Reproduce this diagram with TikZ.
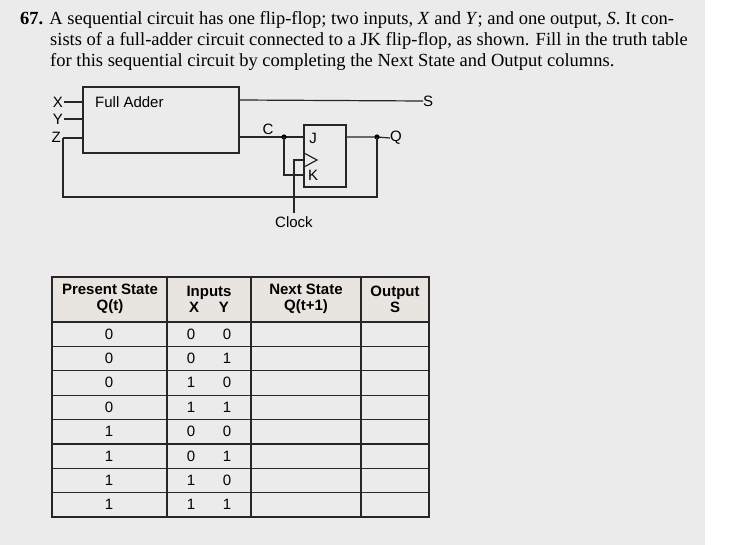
\documentclass[tikz,border=0pt]{standalone}
\usepackage{fontspec}
\setmainfont{Liberation Serif}
\setsansfont{Liberation Sans}
\begin{document}
\begin{tikzpicture}[x=1pt,y=-1pt,
  wire/.style={line width=1.2pt,black!85},
  lbl/.style={font=\sffamily\fontsize{15}{15}\selectfont,inner sep=0pt},
  cell/.style={font=\sffamily\fontsize{15}{15}\selectfont,inner sep=0pt},
  head/.style={font=\sffamily\bfseries\fontsize{15}{16}\selectfont,inner sep=0pt,align=center},
  title/.style={font=\fontsize{18.5}{18.5}\selectfont,inner sep=0pt,anchor=west}]
\fill[black!8] (0,0) rectangle (705,545);
\fill[white] (705,0) rectangle (729,545);
\useasboundingbox (0,0) rectangle (729,545);
% title
\node[title] (t1) at (20,20) {\textbf{67.} A sequential circuit has one flip-flop; two inputs, \textit{X} and \textit{Y}; and one output, \textit{S}. It con-};
\node[title] (t2) at (50,41) {sists of a full-adder circuit connected to a JK flip-flop, as shown. Fill in the truth table};
\node[title] (t3) at (50,62) {for this sequential circuit by completing the Next State and Output columns.};
% circuit
\draw[wire] (83,87) rectangle (239,153);
\node[lbl,anchor=west] (fa) at (95,102) {Full Adder};
\node[lbl,anchor=east] (X) at (63,102) {X};
\node[lbl,anchor=east] (Y) at (63,119) {Y};
\node[lbl,anchor=east] (Z) at (61,137) {Z};
\draw[wire] (X.east)++(1,0) -- (83,102);
\draw[wire] (Y.east)++(1,0) -- (83,119);
\coordinate (zc) at (63,138);
\draw[wire] (zc) -- (83,138);
\node[lbl,anchor=west] (S) at (423,101) {S};
\draw[wire] (239,100) -- (S.west);
\draw[wire] (304,125) rectangle (346,187);
\node[lbl] (J) at (313,138) {J};
\node[lbl] (K) at (313,175) {K};
\node[lbl] (C) at (268,129) {C};
\coordinate (cd) at (284,137);
\draw[wire] (239,137) -- (cd) -- (304,137);
\fill (cd) circle (2.6);
\draw[wire] (cd) -- (284,175) -- (304,175);
\draw[wire] (304,153) -- (317,160) -- (304,167);
\node[lbl] (clk) at (294,222) {Clock};
\draw[wire] (clk.north)++(0,-3) -- (294,160) -- (304,160);
\coordinate (qd) at (377,137);
\node[lbl,anchor=west] (Q) at (390,138) {Q};
\draw[wire] (346,137) -- (qd) -- (Q.west);
\fill (qd) circle (2.6);
\draw[wire] (qd) -- (377,197) -- (63,197) -- (zc);
% table
\fill[orange!25!black!12] (52,277) rectangle (429,322);
\draw[wire] (52,277) rectangle (429,517);
\foreach \x in {167,251,361} \draw[wire] (\x,277) -- (\x,517);
\foreach \i in {0,...,7} \draw[wire] (52,{322+\i*24.4}) -- (429,{322+\i*24.4});
\node[head] (h1) at (110,299) {Present State\\Q(t)};
\node[head] (h2) at (209,299) {Inputs\\X\hspace{1.3em}Y};
\node[head] (h3) at (306,299) {Next State\\Q(t+1)};
\node[head] (h4) at (395,299) {Output\\S};
\foreach \q/\a/\b [count=\i from 0] in {0/0/0,0/0/1,0/1/0,0/1/1,1/0/0,1/0/1,1/1/0,1/1/1}{
  \node[cell] (q\i) at (109,{334+\i*24.4}) {\q};
  \node[cell] (a\i) at (191,{334+\i*24.4}) {\a};
  \node[cell] (b\i) at (227,{334+\i*24.4}) {\b};
}
\end{tikzpicture}
\end{document}
